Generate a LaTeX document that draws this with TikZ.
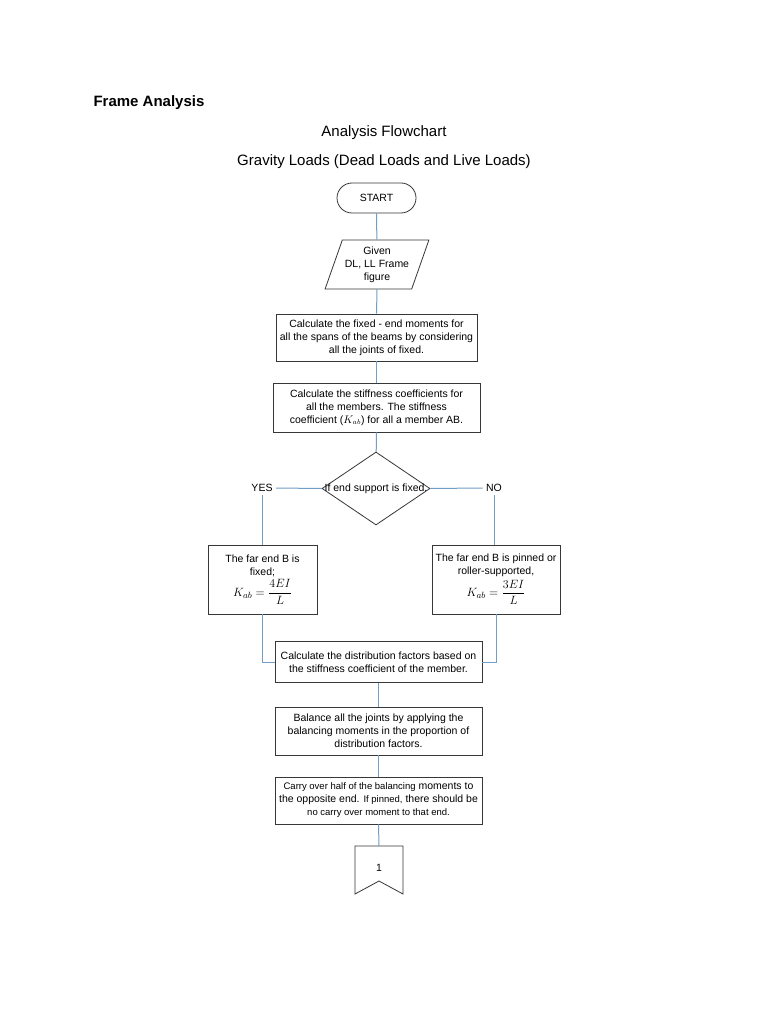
\documentclass[tikz,border=0pt]{standalone}
\usepackage{amsmath}
\usepackage{fontspec}
\setmainfont{Liberation Sans}
\usetikzlibrary{shapes.geometric,positioning,calc}
\usepackage{xcolor}
\definecolor{connblue}{RGB}{112,158,198}
\definecolor{edgegray}{RGB}{55,55,55}

\begin{document}
\begin{tikzpicture}[x=1pt,y=-1pt,
    every node/.style={font=\fontsize{10.5}{13}\selectfont},
    title/.style={font=\fontsize{15}{18}\selectfont},
    box/.style={draw=edgegray, line width=0.8pt, align=center, inner sep=2pt},
    conn/.style={draw=connblue, line width=1pt}]
    \fill[white] (0,0) rectangle (768,1024);
    \useasboundingbox (0,0) rectangle (768,1024);

    % Headings
    \node[title, font=\fontsize{15}{18}\selectfont\bfseries, anchor=west] (head) at (90,102.5) {Frame Analysis};
    \node[title] (chart) at (384,133) {Analysis Flowchart};
    \node[title] (loads) at (384,162) {Gravity Loads (Dead Loads and Live Loads)};

    % Start terminal
    \node[box, rounded corners=15pt, minimum width=79pt, minimum height=30pt] (start) at (376.5,198) {START};

    % Input data
    \node[box, trapezium, trapezium left angle=66, trapezium right angle=114, trapezium stretches=true,
          minimum width=104pt, minimum height=49pt, inner sep=0pt] (given) at (377,264.5) {Given\\DL, LL Frame\\figure};

    % Fixed-end moments and stiffness
    \node[box, minimum width=201pt, minimum height=47pt] (fem) at (376.5,337.5)
        {Calculate the fixed - end moments for\\all the spans of the beams by considering\\all the joints of fixed.};
    \node[box, minimum width=207pt, minimum height=49pt] (stiff) at (376.5,407.5)
        {Calculate the stiffness coefficients for\\all the members. The stiffness\\coefficient ($K_{ab}$) for all a member AB.};

    % Decision on far end support
    \node[box, diamond, minimum width=108pt, minimum height=73pt, inner sep=0pt,
          label=center:{If end support is fixed.}] (far) at (376,488.5) {};
    \node (yes) at (262,488) {YES};
    \node (no) at (494,488) {NO};

    % Two stiffness cases
    \node[box, minimum width=109pt, minimum height=69pt] (fixed) at (262.5,579.5)
        {The far end B is\\fixed;\\[2pt]{\fontsize{12.5}{14}\selectfont$K_{ab}=\dfrac{4EI}{L}$}};
    \node[box, minimum width=128pt, minimum height=69pt] (pinned) at (496,579.5)
        {The far end B is pinned or\\roller-supported,\\[2pt]{\fontsize{12.5}{14}\selectfont$K_{ab}=\dfrac{3EI}{L}$}};

    % Distribution, balancing, carry over
    \node[box, minimum width=207pt, minimum height=41pt] (dist) at (378.5,662)
        {Calculate the distribution factors based on\\the stiffness coefficient of the member.};
    \node[box, minimum width=207pt, minimum height=48pt] (bal) at (378.5,731)
        {Balance all the joints by applying the\\balancing moments in the proportion of\\distribution factors.};
    \node[box, minimum width=207pt, minimum height=47pt] (carry) at (378.5,800.5)
        {{\fontsize{9.5}{13}\selectfont Carry over half of the balancing} moments to\\the opposite end. {\fontsize{9.5}{13}\selectfont If pinned,} there should be\\{\fontsize{9.5}{13}\selectfont no carry over moment to that end.}};

    % Off-page connector
    \coordinate (page) at (379,846);
    \draw[draw=edgegray, line width=0.8pt] (page) -- ++(24,0) -- ++(0,48) -- ++(-24,-13) -- ++(-24,13) -- ++(0,-48) -- cycle;
    \node (pagenum) at (379,868) {1};

    % Connectors
    \draw[conn] (start) -- (given);
    \draw[conn] (given) -- (fem);
    \draw[conn] (fem) -- (stiff);
    \draw[conn] (stiff) -- (far);
    \draw[conn] (far.west) -- (yes.east);
    \draw[conn] (far.east) -- (no.west);
    \draw[conn] (yes.south) -- (yes.south |- fixed.north);
    \draw[conn] (no.south) -- (no.south |- pinned.north);
    \draw[conn] (fixed.south) |- (dist.west);
    \draw[conn] (pinned.south) |- (dist.east);
    \draw[conn] (dist) -- (bal);
    \draw[conn] (bal) -- (carry);
    \draw[conn] (carry.south) -- (page);
\end{tikzpicture}
\end{document}
